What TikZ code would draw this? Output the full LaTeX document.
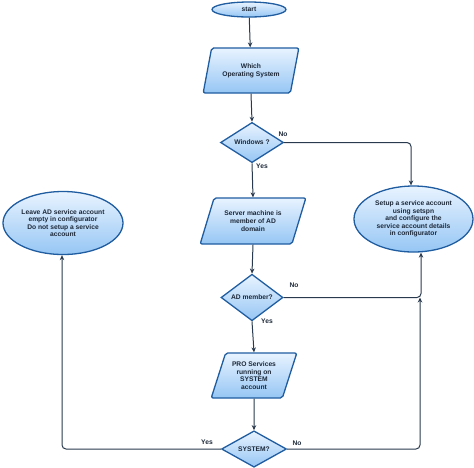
\documentclass[tikz,border=0pt]{standalone}
\usepackage{fontspec}
\setmainfont{Liberation Sans}
\usetikzlibrary{shapes.geometric,arrows.meta}
\definecolor{shapestroke}{HTML}{1F5CA0}
\definecolor{filltop}{HTML}{E8F3FF}
\definecolor{fillbot}{HTML}{96C6F4}
\definecolor{linecol}{HTML}{2A3A4E}
\definecolor{txtcol}{HTML}{1C2838}
\begin{document}
\begin{tikzpicture}[x=1pt,y=-1pt,
  every node/.style={font=\fontsize{6.7}{7.6}\selectfont\bfseries, text=txtcol},
  base/.style={draw=shapestroke, line width=1.3pt, top color=filltop, bottom color=fillbot, align=center, inner sep=0pt},
  term/.style={base, ellipse},
  para/.style={base, trapezium, trapezium stretches=true, rounded corners=2pt},
  decision/.style={base, diamond},
  conn/.style={draw=linecol, line width=1pt, rounded corners=4pt, -{Stealth[length=5pt,width=4.5pt]}},
  lbl/.style={font=\fontsize{6.7}{7.6}\selectfont\bfseries, inner sep=0pt}
]
\useasboundingbox (0,0) rectangle (474,467);

\node[term, minimum width=74pt, minimum height=15pt] (start) at (249,9.5) {start};
\node[para, minimum width=96pt, minimum height=45pt, trapezium left angle=66, trapezium right angle=114] (which) at (251,70.5) {Which\\Operating System};
\node[decision, minimum width=63pt, minimum height=31pt] (win) at (252,142.5) {Windows ?};
\node[para, minimum width=106pt, minimum height=46pt, trapezium left angle=63, trapezium right angle=117] (server) at (253,221) {Server machine is\\member of AD\\domain};
\node[decision, minimum width=62pt, minimum height=31pt] (ad) at (252,297.5) {AD member?};
\node[para, minimum width=86pt, minimum height=45pt, trapezium left angle=68, trapezium right angle=112] (pro) at (254,375.5) {PRO Services\\running on\\SYSTEM\\account};
\node[decision, minimum width=65pt, minimum height=32pt] (sys) at (254,449) {SYSTEM?};
\node[term, minimum width=119pt, minimum height=66pt] (setup) at (413.5,219) {Setup a service account\\using setspn\\and configure the\\service account details\\in configurator};
\node[term, minimum width=120pt, minimum height=63pt] (leave) at (63,223) {Leave AD service account\\empty in configurator\\Do not setup a service\\account};

\coordinate (c1) at (411,142.5);
\coordinate (c2) at (421,297.5);
\coordinate (c3) at (420,449);
\coordinate (c4) at (62,449);

\draw[conn] (start) -- (which);
\draw[conn] (which.south) -- (win.north);
\draw[conn] (win.east) -- (c1) -- (setup.north -| c1);
\draw[conn] (win.south) -- (server.north);
\draw[conn] (server.south) -- (ad.north);
\draw[conn] (ad.east) -- (c2) -- (setup.south -| c2);
\draw[conn] (ad.south) -- (pro.north);
\draw[conn] (pro.south) -- (sys.north);
\draw[conn] (sys.west) -- (c4) -- (leave.south -| c4);
\draw[conn] (sys.east) -- (c3) -- (c3 |- c2);

\node[lbl] (lno1) at (283,134) {No};
\node[lbl] (lyes1) at (262,166) {Yes};
\node[lbl] (lno2) at (294,285) {No};
\node[lbl] (lyes2) at (267,321) {Yes};
\node[lbl] (lyes3) at (207,442) {Yes};
\node[lbl] (lno3) at (297,443) {No};
\end{tikzpicture}
\end{document}
